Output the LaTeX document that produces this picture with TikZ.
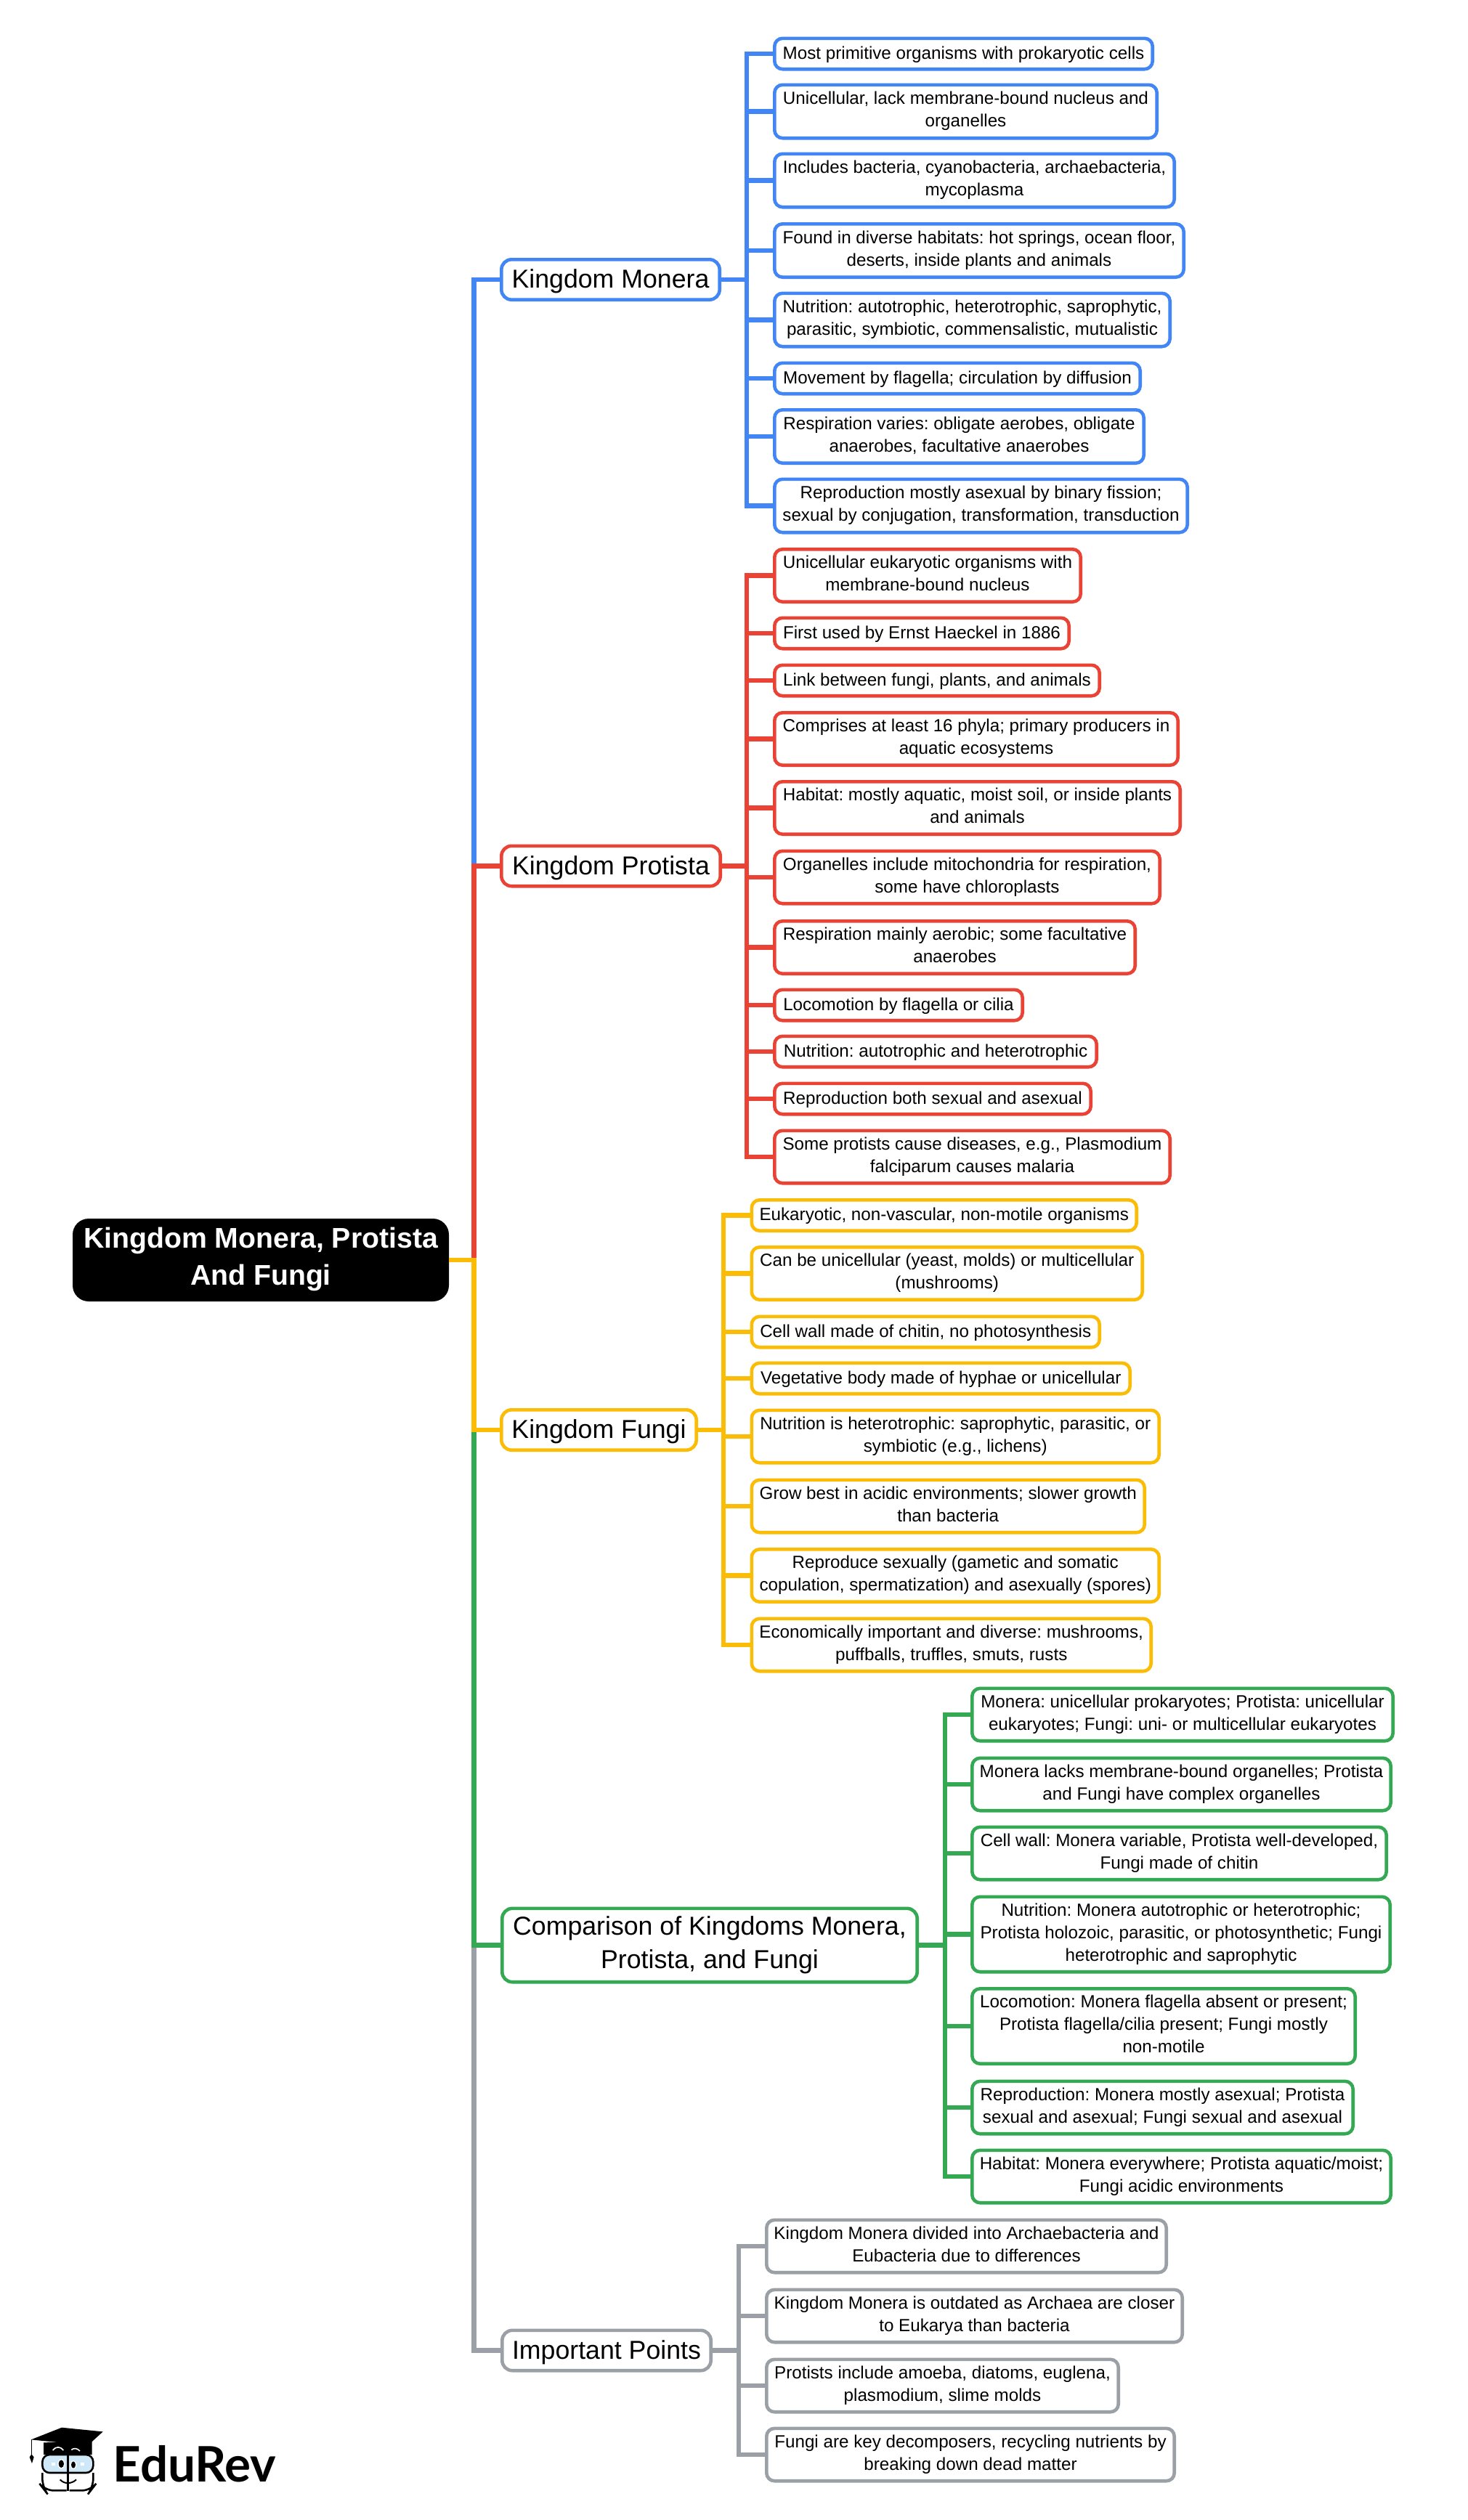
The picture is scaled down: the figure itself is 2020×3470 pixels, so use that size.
\documentclass[tikz,border=0pt]{standalone}
\usepackage{fontspec}
\setmainfont{Liberation Sans}
\newfontfamily\logofont{Lato}
\frenchspacing
\definecolor{cblue}{HTML}{4285F4}
\definecolor{cred}{HTML}{EA4335}
\definecolor{cyel}{HTML}{FBBC05}
\definecolor{cgrn}{HTML}{34A853}
\definecolor{cgry}{HTML}{9AA0A6}
\definecolor{logoblue}{HTML}{CFE8F7}
\tikzset{
  leafbox/.style={draw=#1,fill=white,line width=2.3pt,rounded corners=5.5pt,inner sep=0pt,outer sep=0pt,
    align=center,font=\fontsize{12.1}{15.5}\selectfont,
    execute at begin node={\rule{0pt}{\dimexpr 10pt+\extrah pt\relax}},execute at end node={\rule[-3pt]{0pt}{3pt}}},
  branchbox/.style={draw=#1,fill=white,line width=2.3pt,rounded corners=7pt,inner sep=0pt,outer sep=0pt,
    align=center,font=\fontsize{17.85}{23}\selectfont,
    execute at begin node={\rule{0pt}{\dimexpr 15.5pt+\extrah pt\relax}},execute at end node={\rule[-4pt]{0pt}{4pt}}},
  rootbox/.style={fill=black,text=white,rounded corners=11pt,inner sep=0pt,outer sep=0pt,
    align=center,font=\fontsize{19.6}{25.4}\selectfont\bfseries,
    execute at begin node={\rule{0pt}{18pt}},execute at end node={\rule[-5.3pt]{0pt}{5.3pt}}},
  trunk/.style={draw=#1,line width=3.2pt},
  twig/.style={draw=#1,line width=3.2pt}
}
% style, name, colour, left, right, centre y, height, text
\newcommand{\boxnode}[8]{%
  \pgfmathsetmacro{\cxx}{(#4-1+#5+2)/2}%
  \pgfmathsetmacro{\ww}{(#5+3-#4-4.6)*0.5}%
  \pgfmathsetmacro{\hh}{(#7-3.6)*0.5}%
  \pgfmathsetmacro{\extrah}{#7>65 ? 2 : 0}%
  \node[#1=#3,minimum width=\ww pt,minimum height=\hh pt] (#2) at (\cxx,#6) {#8};%
}
\begin{document}
\begin{tikzpicture}[x=0.5pt,y=-0.5pt]
\useasboundingbox[fill=white] (0,0) rectangle (2020,3470);

% root
\node[rootbox,minimum width=259pt,minimum height=57pt] (R) at (359,1735) {Kingdom Monera, Protista\\And Fungi};
\coordinate (T) at (652.5,1735);

% branches
\boxnode{branchbox}{M}{cblue}{689}{991}{385}{59}{Kingdom Monera}
\boxnode{branchbox}{P}{cred}{689}{992}{1192.5}{59}{Kingdom Protista}
\boxnode{branchbox}{F}{cyel}{689}{959}{1969}{59}{Kingdom Fungi}
\boxnode{branchbox}{C}{cgrn}{690}{1263}{2678.5}{105}{Comparison of Kingdoms Monera,\\Protista, and Fungi}
\boxnode{branchbox}{I}{cgry}{690}{979}{3236.5}{59}{Important Points}

% Monera
\boxnode{leafbox}{m1}{cblue}{1065}{1587}{74}{46}{Most primitive organisms with prokaryotic cells}
\boxnode{leafbox}{m2}{cblue}{1065}{1593}{153.5}{77}{Unicellular, lack membrane-bound nucleus and\\organelles}
\boxnode{leafbox}{m3}{cblue}{1065}{1617}{248.5}{77}{Includes bacteria, cyanobacteria, archaebacteria,\\mycoplasma}
\boxnode{leafbox}{m4}{cblue}{1065}{1630}{345}{77}{Found in diverse habitats: hot springs, ocean floor,\\deserts, inside plants and animals}
\boxnode{leafbox}{m5}{cblue}{1065}{1611}{440.5}{77}{Nutrition: autotrophic, heterotrophic, saprophytic,\\parasitic, symbiotic, commensalistic, mutualistic}
\boxnode{leafbox}{m6}{cblue}{1065}{1570}{521}{46}{Movement by flagella; circulation by diffusion}
\boxnode{leafbox}{m7}{cblue}{1065}{1575}{601}{77}{Respiration varies: obligate aerobes, obligate\\anaerobes, facultative anaerobes}
\boxnode{leafbox}{m8}{cblue}{1065}{1635}{696.5}{77}{Reproduction mostly asexual by binary fission;\\sexual by conjugation, transformation, transduction}

% Protista
\boxnode{leafbox}{p1}{cred}{1065}{1488}{792.5}{76}{Unicellular eukaryotic organisms with\\membrane-bound nucleus}
\boxnode{leafbox}{p2}{cred}{1065}{1472}{872}{46}{First used by Ernst Haeckel in 1886}
\boxnode{leafbox}{p3}{cred}{1065}{1514}{937}{46}{Link between fungi, plants, and animals}
\boxnode{leafbox}{p4}{cred}{1065}{1622}{1017.5}{76}{Comprises at least 16 phyla; primary producers in\\aquatic ecosystems}
\boxnode{leafbox}{p5}{cred}{1065}{1625}{1112.5}{76}{Habitat: mostly aquatic, moist soil, or inside plants\\and animals}
\boxnode{leafbox}{p6}{cred}{1065}{1597}{1208}{76}{Organelles include mitochondria for respiration,\\some have chloroplasts}
\boxnode{leafbox}{p7}{cred}{1065}{1563}{1304.5}{76}{Respiration mainly aerobic; some facultative\\anaerobes}
\boxnode{leafbox}{p8}{cred}{1065}{1408}{1384}{46}{Locomotion by flagella or cilia}
\boxnode{leafbox}{p9}{cred}{1065}{1510}{1448}{46}{Nutrition: autotrophic and heterotrophic}
\boxnode{leafbox}{p10}{cred}{1065}{1502}{1513}{46}{Reproduction both sexual and asexual}
\boxnode{leafbox}{p11}{cred}{1065}{1611}{1593}{76}{Some protists cause diseases, e.g., Plasmodium\\falciparum causes malaria}

% Fungi
\boxnode{leafbox}{f1}{cyel}{1033.5}{1565}{1673.5}{46}{Eukaryotic, non-vascular, non-motile organisms}
\boxnode{leafbox}{f2}{cyel}{1033.5}{1573}{1753.5}{76}{Can be unicellular (yeast, molds) or multicellular\\(mushrooms)}
\boxnode{leafbox}{f3}{cyel}{1033.5}{1514}{1834}{46}{Cell wall made of chitin, no photosynthesis}
\boxnode{leafbox}{f4}{cyel}{1033.5}{1556}{1898}{46}{Vegetative body made of hyphae or unicellular}
\boxnode{leafbox}{f5}{cyel}{1033.5}{1596}{1978}{76}{Nutrition is heterotrophic: saprophytic, parasitic, or\\symbiotic (e.g., lichens)}
\boxnode{leafbox}{f6}{cyel}{1033.5}{1576}{2074}{76}{Grow best in acidic environments; slower growth\\than bacteria}
\boxnode{leafbox}{f7}{cyel}{1033.5}{1596}{2169.5}{76}{Reproduce sexually (gametic and somatic\\copulation, spermatization) and asexually (spores)}
\boxnode{leafbox}{f8}{cyel}{1033.5}{1585}{2265}{76}{Economically important and diverse: mushrooms,\\puffballs, truffles, smuts, rusts}

% Comparison
\boxnode{leafbox}{c1}{cgrn}{1337}{1918}{2361}{76}{Monera: unicellular prokaryotes; Protista: unicellular\\eukaryotes; Fungi: uni- or multicellular eukaryotes}
\boxnode{leafbox}{c2}{cgrn}{1337}{1915}{2457}{76}{Monera lacks membrane-bound organelles; Protista\\and Fungi have complex organelles}
\boxnode{leafbox}{c3}{cgrn}{1337}{1909}{2552}{76}{Cell wall: Monera variable, Protista well-developed,\\Fungi made of chitin}
\boxnode{leafbox}{c4}{cgrn}{1337}{1914}{2663.5}{107}{Nutrition: Monera autotrophic or heterotrophic;\\Protista holozoic, parasitic, or photosynthetic; Fungi\\heterotrophic and saprophytic}
\boxnode{leafbox}{c5}{cgrn}{1337}{1866}{2790}{107}{Locomotion: Monera flagella absent or present;\\Protista flagella/cilia present; Fungi mostly\\non-motile}
\boxnode{leafbox}{c6}{cgrn}{1337}{1863}{2902}{76}{Reproduction: Monera mostly asexual; Protista\\sexual and asexual; Fungi sexual and asexual}
\boxnode{leafbox}{c7}{cgrn}{1337}{1915}{2997}{76}{Habitat: Monera everywhere; Protista aquatic/moist;\\Fungi acidic environments}

% Important
\boxnode{leafbox}{i1}{cgry}{1054}{1606}{3093}{76}{Kingdom Monera divided into Archaebacteria and\\Eubacteria due to differences}
\boxnode{leafbox}{i2}{cgry}{1054}{1628}{3189}{76}{Kingdom Monera is outdated as Archaea are closer\\to Eukarya than bacteria}
\boxnode{leafbox}{i3}{cgry}{1054}{1540}{3285}{76}{Protists include amoeba, diatoms, euglena,\\plasmodium, slime molds}
\boxnode{leafbox}{i4}{cgry}{1054}{1617}{3380}{76}{Fungi are key decomposers, recycling nutrients by\\breaking down dead matter}

% spine positions
\coordinate (Ms) at (1028,385);
\coordinate (Ps) at (1028,1192.5);
\coordinate (Fs) at (996,1969);
\coordinate (Cs) at (1301,2678.5);
\coordinate (Is) at (1017,3236.5);

% twigs
\foreach \i in {1,...,8} \draw[twig=cblue] (M.east) -- (Ms |- M.east) |- (m\i.west);
\foreach \i in {1,...,11} \draw[twig=cred] (P.east) -- (Ps |- P.east) |- (p\i.west);
\foreach \i in {1,...,8} \draw[twig=cyel] (F.east) -- (Fs |- F.east) |- (f\i.west);
\foreach \i in {1,...,7} \draw[twig=cgrn] (C.east) -- (Cs |- C.east) |- (c\i.west);
\foreach \i in {1,...,4} \draw[twig=cgry] (I.east) -- (Is |- I.east) |- (i\i.west);

% trunk
\draw[trunk=cblue] (R.east) -- (T) |- (M.west);
\draw[trunk=cred] (R.east) -- (T) |- (P.west);
\draw[trunk=cgry] (R.east) -- (T) |- (I.west);
\draw[trunk=cgrn] (R.east) -- (T) |- (C.west);
\draw[trunk=cyel] (R.east) -- (T) |- (F.west);

% logo wordmark
\node[inner sep=0pt,anchor=base west,font=\logofont\bfseries\fontsize{33.7}{34}\selectfont] (logo) at (155,3417) {EduRev};

% logo emblem
\begin{scope}[shift={(30,3330)},x=0.16667pt,y=-0.16667pt]
  \fill[black] (90,100) -- (90,150) -- (290,150) -- (290,95) -- cycle;
  \fill[black] (38,88) -- (165,38) -- (335,55) -- (255,128) -- (160,100) -- cycle;
  \draw[black,line width=0.7pt] (40,88) -- (40,150);
  \fill[black] (40,148) -- (50,160) -- (42,186) -- (32,160) -- cycle;
  \draw[white,line width=0.8pt] (128,132) .. controls (140,115) and (160,115) .. (172,132);
  \draw[white,line width=0.8pt] (205,130) .. controls (215,122) and (228,122) .. (240,135);
  \draw[black,line width=1.3pt,fill=logoblue,rounded corners=5pt] (85,150) rectangle (295,225);
  \draw[black,line width=1.3pt,rounded corners=6pt] (185,298) -- (95,298) -- (85,285) -- (85,225);
  \draw[black,line width=1.3pt,rounded corners=6pt] (197,298) -- (285,298) -- (295,285) -- (295,225);
  \draw[black,line width=1.3pt] (191,145) -- (191,300);
  \fill[white] (163,188) ellipse [x radius=15,y radius=20];
  \fill[white] (213,192) ellipse [x radius=13,y radius=18];
  \fill[black] (163,188) ellipse [x radius=11,y radius=16];
  \fill[black] (213,192) ellipse [x radius=9,y radius=14];
  \fill[white] (122,182) rectangle (138,194);
  \fill[white] (242,182) rectangle (258,194);
  \draw[black,line width=1pt] (158,253) .. controls (175,272) and (205,272) .. (225,253);
\end{scope}
\end{tikzpicture}
\end{document}
